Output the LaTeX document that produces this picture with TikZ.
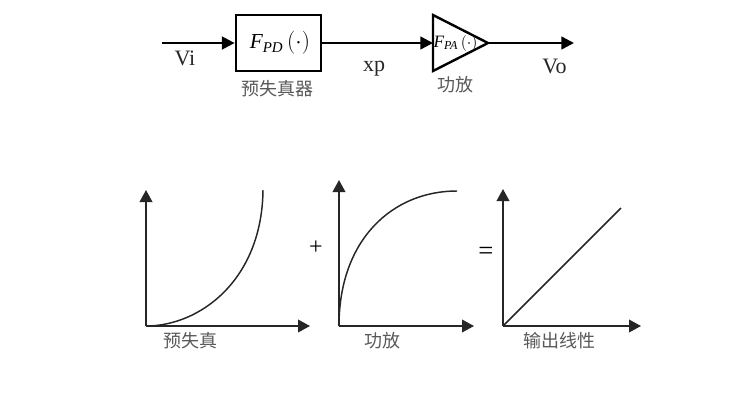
\documentclass[tikz,border=0pt]{standalone}
\usepackage{fontspec}
\usepackage{amsmath}
\setmainfont{Liberation Serif}
\newfontfamily\cjk{Noto Sans CJK SC}
\usetikzlibrary{arrows.meta}
\definecolor{labelgray}{gray}{0.35}

\begin{document}
\begin{tikzpicture} [x=0.75pt, y=-0.75pt]

\tikzset{block/.style = {shape=rectangle,draw,line width=1.8pt,inner sep=0pt}}
\tikzset{edge/.style = {-{Triangle[length=9.5pt,width=9.5pt]},line width=1.8pt}}
\tikzset{axis/.style = {-{Triangle[length=9pt,width=9.5pt]},line width=1.2pt,black!85}}
\tikzset{curve/.style = {line width=1.1pt,black!85}}
\tikzset{caption/.style = {font=\cjk\fontsize{13.5}{15}\selectfont,text=labelgray,inner sep=0pt}}
\tikzset{signal/.style = {font=\fontsize{16.5}{18}\selectfont,inner sep=0pt,text=black!85}}
\useasboundingbox (0,0) rectangle (753,405);

% blocks
\node[block,minimum width=64pt,minimum height=42pt] (pd) at (278.5,43) {\hspace{2pt}\fontsize{16}{18}\selectfont $\textit{F}_{\textit{PD}}\,(\cdot)$};
\coordinate (pain) at (433,43);
\coordinate (patop) at (433,15);
\coordinate (pabot) at (433,71);
\coordinate (paout) at (488,43);
\draw[line width=1.8pt,line join=miter] (patop) -- (paout) -- (pabot) -- cycle;
\node[inner sep=0pt] (pa) at (455.5,43) {\fontsize{13}{14}\selectfont $\textit{F}_{\textit{PA}}\,(\cdot)$};
% signals
\coordinate (vin) at (162,43);
\coordinate (vout) at (574,43);
\draw[edge] (vin) -- (pd);
\draw[edge] (pd) -- (pain);
\draw[edge] (paout) -- (vout);
\node[signal] (vi) at (185,58) {Vi};
\node[signal] (xp) at (374,69) {xp};
\node[signal] (vo) at (554.5,66) {Vo};
\node[caption] (pdname) at (277,89) {预失真器};
\node[caption] (paname) at (455.5,85) {功放};

% plots
\coordinate (o1) at (146,326);
\coordinate (y1) at (146,190);
\coordinate (x1) at (310,326);
\coordinate (c1) at (263,190);
\coordinate (o2) at (339,326);
\coordinate (y2) at (339,180);
\coordinate (x2) at (474,326);
\coordinate (c2) at (457,191);
\coordinate (o3) at (503,326);
\coordinate (y3) at (503,189);
\coordinate (x3) at (641,326);
\coordinate (c3) at (621,208);
\draw[axis] (o1) -- (y1);
\draw[axis] (o1) -- (x1);
\draw[axis] (o2) -- (y2);
\draw[axis] (o2) -- (x2);
\draw[axis] (o3) -- (y3);
\draw[axis] (o3) -- (x3);
\draw[curve] (o1) .. controls (200,326) and (262,280) .. (c1);
\draw[curve] (o2) .. controls (339,240) and (392,191) .. (c2);
\draw[curve] (o3) -- (c3);
\node[font=\fontsize{18}{18}\selectfont,inner sep=0pt] (plus) at (316,248) {+};
\node[font=\fontsize{20}{20}\selectfont,inner sep=0pt] (equals) at (486,253) {=};
\node[caption] (name1) at (190,341) {预失真};
\node[caption] (name2) at (382,341) {功放};
\node[caption] (name3) at (559,341) {输出线性};

\end{tikzpicture}
\end{document}
